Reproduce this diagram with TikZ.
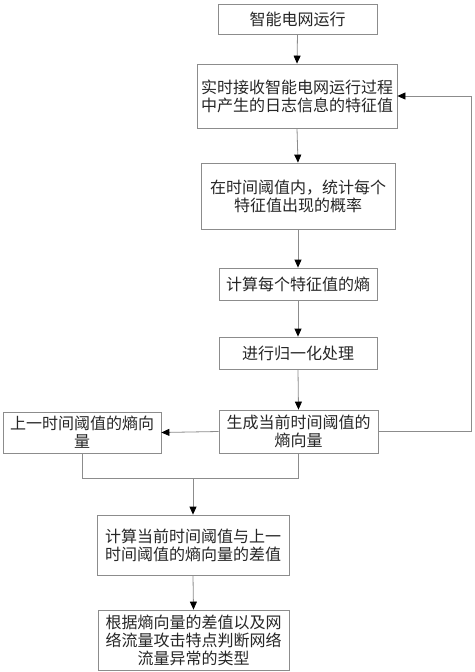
\documentclass[tikz,border=0pt]{standalone}
\usepackage{fontspec}
\newfontfamily\cjk{Noto Sans CJK SC}
\usetikzlibrary{arrows.meta}
\begin{document}
\begin{tikzpicture}[x=1pt,y=-1pt,
  box/.style={draw=black!45,line width=0.8pt,fill=white,inner sep=0pt,align=center,
    font=\cjk\fontsize{16}{18}\selectfont,text=black!85},
  conn/.style={draw=black!45,line width=0.8pt},
  arr/.style={conn,-{Triangle[length=8pt,width=7pt,color=black]}}]
\useasboundingbox[fill=white] (0,0) rectangle (474,672);
\node[box,minimum width=159pt,minimum height=30pt] (B1) at (297.5,19) {智能电网运行};
\node[box,minimum width=200pt,minimum height=64pt] (B2) at (297,96) {实时接收智能电网运行过程\\中产生的日志信息的特征值};
\node[box,minimum width=194pt,minimum height=66pt] (B3) at (298,196) {在时间阈值内，统计每个\\特征值出现的概率};
\node[box,minimum width=158pt,minimum height=32pt] (B4) at (298,284) {计算每个特征值的熵};
\node[box,minimum width=158pt,minimum height=32pt] (B5) at (298,353) {进行归一化处理};
\node[box,minimum width=159pt,minimum height=43pt] (B6) at (298.5,431.5) {生成当前时间阈值的\\熵向量};
\node[box,minimum width=158pt,minimum height=41pt] (B7) at (82,432.5) {上一时间阈值的熵向\\量};
\node[box,minimum width=192pt,minimum height=60pt] (B8) at (193,545) {计算当前时间阈值与上一\\时间阈值的熵向量的差值};
\node[box,minimum width=191pt,minimum height=60pt] (B9) at (193.5,640) {根据熵向量的差值以及网\\络流量攻击特点判断网络\\流量异常的类型};
\coordinate (fr) at (471,96);
\coordinate (m) at (193,478);
\draw[arr] (B1.south) -- (B2.north);
\draw[arr] (B2.south) -- (B3.north);
\draw[arr] (B3.south) -- (B4.north);
\draw[arr] (B4.south) -- (B5.north);
\draw[arr] (B5.south) -- (B6.north);
\draw[arr] (B6.east) -| (fr) -- (B2.east);
\draw[arr] (B6.west) -- (B7.east);
\draw[conn] (B7.south) |- (m);
\draw[conn] (B6.south) |- (m);
\draw[arr] (m) -- (B8.north);
\draw[arr] (B8.south) -- (B9.north);
\end{tikzpicture}
\end{document}
